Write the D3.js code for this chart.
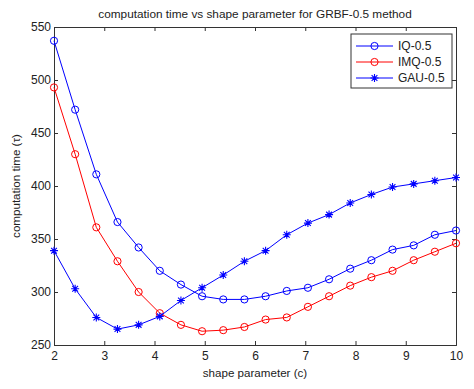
<!DOCTYPE html>
<html>
<head>
<meta charset="utf-8">
<script src="https://cdn.jsdelivr.net/npm/d3@7"></script>
<style>
  body { margin: 0; background: #fff; }
  svg text { font-family: "Liberation Sans", Arial, sans-serif; fill: #222; }
</style>
</head>
<body>
<svg id="chart" width="474" height="389"></svg>
<script>
// shape parameter values (linspace 2..10, 20 points)
const shapeParam = [2, 2.421, 2.842, 3.263, 3.684, 4.105, 4.526, 4.947, 5.368, 5.789,
  6.211, 6.632, 7.053, 7.474, 7.895, 8.316, 8.737, 9.158, 9.579, 10];
const iqTime = [537, 472, 411, 366, 342, 320, 307, 296, 293, 293,
  296, 301, 304, 312, 322, 330, 340, 344, 354, 358];
const imqTime = [493, 430, 361, 329, 300, 280, 269, 263, 264, 267,
  274, 276, 286, 296, 306, 314, 320, 330, 338, 346];
const gauTime = [339, 303, 276, 265, 269, 277, 292, 304, 316, 329,
  339, 354, 365, 373, 384, 392, 399, 402, 405, 408];
const xTicks = [2, 3, 4, 5, 6, 7, 8, 9, 10];
const yTicks = [250, 300, 350, 400, 450, 500, 550];

const series = [
  { name: "IQ-0.5", values: iqTime, color: "#0000ff", marker: "circle" },
  { name: "IMQ-0.5", values: imqTime, color: "#ff0000", marker: "circle" },
  { name: "GAU-0.5", values: gauTime, color: "#0000ff", marker: "star" },
];

const svg = d3.select("#chart");
const plot = { left: 54, right: 456, top: 27, bottom: 345 };
const axisColor = "#333";

const x = d3.scaleLinear().domain([2, 10]).range([plot.left, plot.right]);
const y = d3.scaleLinear().domain([250, 550]).range([plot.bottom, plot.top]);

// title
svg.append("text")
  .attr("x", (plot.left + plot.right) / 2)
  .attr("y", 18)
  .attr("text-anchor", "middle")
  .style("font-size", "11.8px")
  .text("computation time vs shape parameter for GRBF-0.5 method");

// axes on all four sides, ticks pointing inward
const tickLen = 4;
svg.append("g")
  .attr("transform", `translate(0,${plot.bottom})`)
  .call(d3.axisBottom(x).tickValues(xTicks).tickSize(-tickLen).tickPadding(6).tickFormat(d3.format("d")));
svg.append("g")
  .attr("transform", `translate(0,${plot.top})`)
  .call(d3.axisTop(x).tickValues(xTicks).tickSize(-tickLen).tickFormat(""));
svg.append("g")
  .attr("transform", `translate(${plot.left},0)`)
  .call(d3.axisLeft(y).tickValues(yTicks).tickSize(-tickLen).tickPadding(3));
svg.append("g")
  .attr("transform", `translate(${plot.right},0)`)
  .call(d3.axisRight(y).tickValues(yTicks).tickSize(-tickLen).tickFormat(""));

svg.selectAll(".domain, .tick line").attr("stroke", axisColor).attr("stroke-width", 1);
svg.selectAll(".tick text")
  .style("font-size", "12px")
  .style("font-family", "'Liberation Sans', Arial, sans-serif")
  .attr("fill", "#222");

// axis labels
svg.append("text")
  .attr("x", (plot.left + plot.right) / 2)
  .attr("y", 377)
  .attr("text-anchor", "middle")
  .style("font-size", "11.6px")
  .text("shape parameter (c)");
svg.append("text")
  .attr("transform", `translate(20,${(plot.top + plot.bottom) / 2}) rotate(-90)`)
  .attr("text-anchor", "middle")
  .style("font-size", "11.6px")
  .text("computation time (τ)");

// marker helpers
const starPath = (s) => {
  const d = s * 0.72;
  return `M${-s},0L${s},0M0,${-s}L0,${s}M${-d},${-d}L${d},${d}M${-d},${d}L${d},${-d}`;
};
function drawMarker(g, type, color) {
  if (type === "circle") {
    g.append("circle").attr("r", 3.6)
      .attr("fill", "none").attr("stroke", color).attr("stroke-width", 1);
  } else {
    g.append("path").attr("d", starPath(4))
      .attr("fill", "none").attr("stroke", color).attr("stroke-width", 1.1);
  }
}

const line = d3.line().x((d, i) => x(shapeParam[i])).y((d) => y(d));

series.forEach((s) => {
  svg.append("path")
    .datum(s.values)
    .attr("d", line)
    .attr("fill", "none")
    .attr("stroke", s.color)
    .attr("stroke-width", 1);
  s.values.forEach((v, i) => {
    const g = svg.append("g").attr("transform", `translate(${x(shapeParam[i])},${y(v)})`);
    drawMarker(g, s.marker, s.color);
  });
});

// legend
const lg = svg.append("g").attr("transform", "translate(351,34)");
lg.append("rect")
  .attr("width", 101).attr("height", 54)
  .attr("fill", "#fff").attr("stroke", axisColor).attr("stroke-width", 1);
series.forEach((s, i) => {
  const yy = 12 + i * 16;
  lg.append("line")
    .attr("x1", 5).attr("x2", 42).attr("y1", yy).attr("y2", yy)
    .attr("stroke", s.color).attr("stroke-width", 1);
  drawMarker(lg.append("g").attr("transform", `translate(23.5,${yy})`), s.marker, s.color);
  lg.append("text")
    .attr("x", 47).attr("y", yy).attr("dy", "0.35em")
    .style("font-size", "12px")
    .text(s.name);
});
</script>
</body>
</html>
